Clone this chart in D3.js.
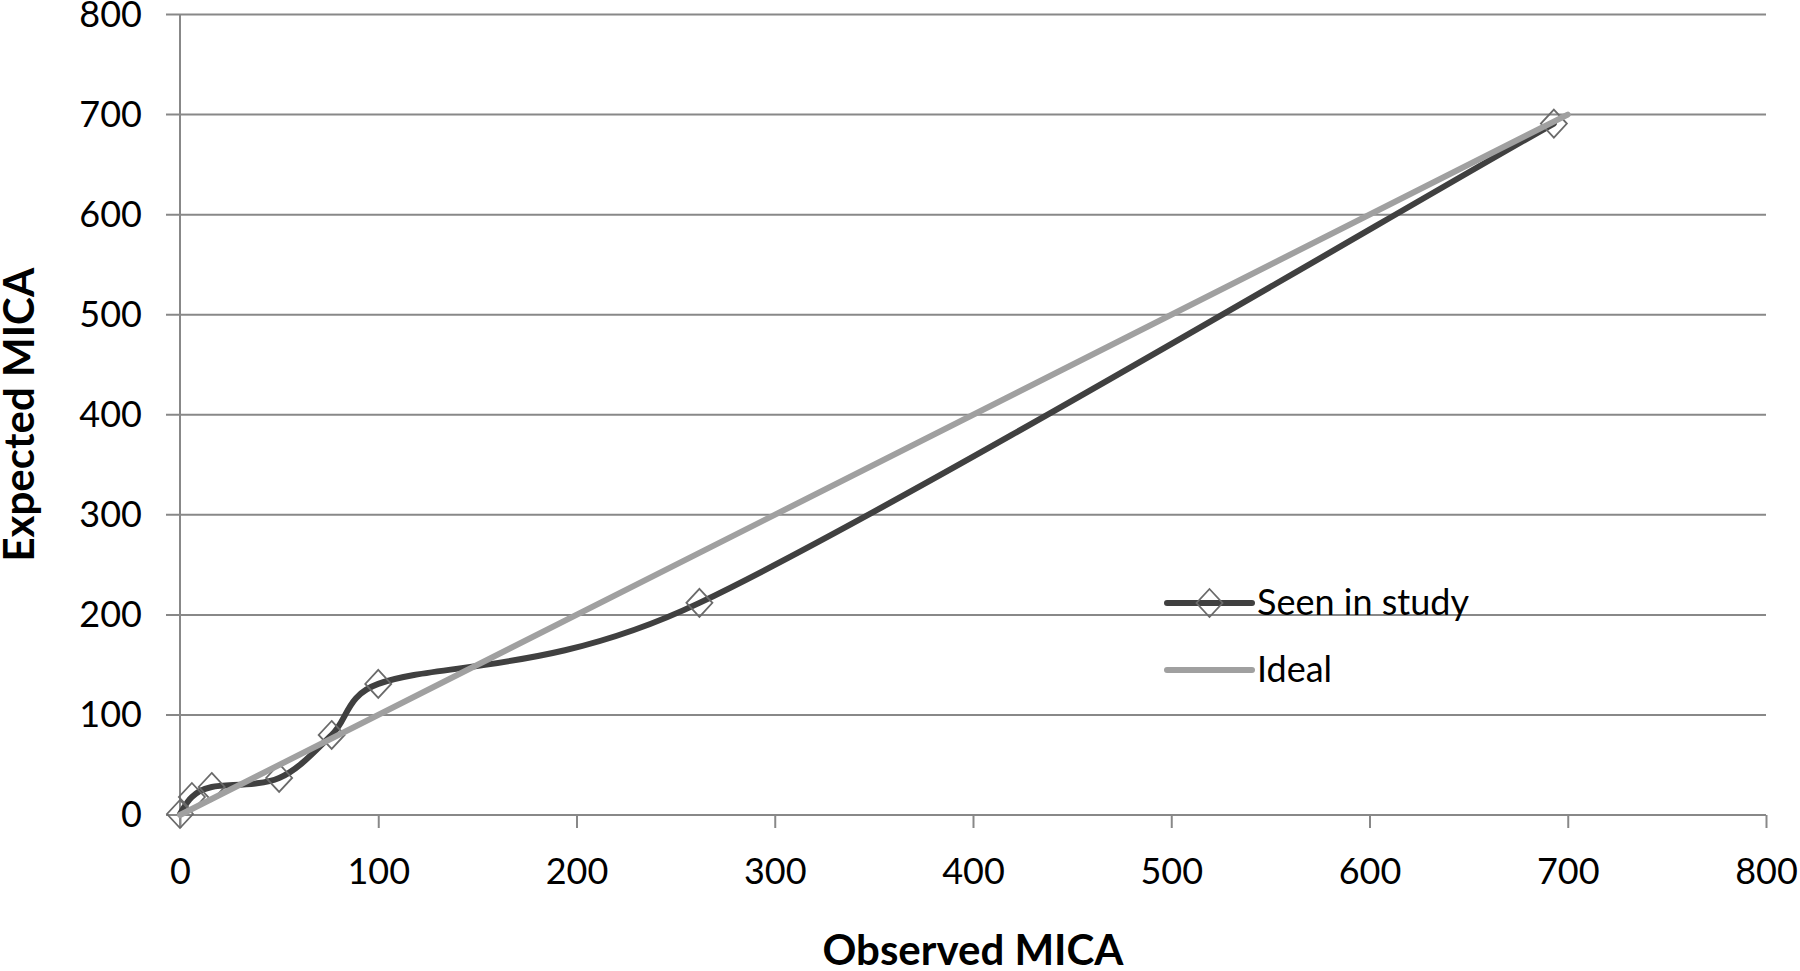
<!DOCTYPE html>
<html>
<head>
<meta charset="utf-8">
<title>Observed vs Expected MICA</title>
<style>
    body { margin: 0; background: #fff; }
    text { font-family: Lato, "Open Sans", sans-serif; fill: #000; }
</style>
</head>
<body>
<svg width="1800" height="971"></svg>
<script src="https://d3js.org/d3.v7.min.js"></script>
<script>
    // data
    const seenX = [0, 6, 16, 50, 76.5, 100, 262, 693];
    const seenY = [1, 18, 28, 37, 80, 131, 212, 691];
    const idealX = [0, 700];
    const idealY = [0, 700];
    const xTicks = [0, 100, 200, 300, 400, 500, 600, 700, 800];
    const yTicks = [0, 100, 200, 300, 400, 500, 600, 700, 800];
    const seriesNames = ['Seen in study', 'Ideal'];

    const svg = d3.select('svg');
    const plotLeft = 180, plotRight = 1766, plotTop = 14.5, plotBottom = 815;
    const gridColor = '#888';

    const x = d3.scaleLinear().domain([0, 800]).range([plotLeft, plotRight]);
    const y = d3.scaleLinear().domain([0, 800]).range([plotBottom, plotTop]);

    // horizontal gridlines
    svg.append('g').selectAll('line').data(yTicks).enter().append('line')
        .attr('x1', plotLeft - 14).attr('x2', plotRight)
        .attr('y1', d => y(d)).attr('y2', d => y(d))
        .attr('stroke', gridColor).attr('stroke-width', 2);

    // y axis
    const yAxis = svg.append('g').attr('transform', `translate(${plotLeft},0)`)
        .call(d3.axisLeft(y).tickValues(yTicks).tickSize(0).tickPadding(38));
    yAxis.select('.domain').remove();
    yAxis.selectAll('text').style('font-size', '36px');
    svg.append('line')
        .attr('x1', plotLeft).attr('x2', plotLeft).attr('y1', plotTop).attr('y2', plotBottom + 13)
        .attr('stroke', gridColor).attr('stroke-width', 2);

    // x axis
    const xAxis = svg.append('g').attr('transform', `translate(0,${plotBottom})`)
        .call(d3.axisBottom(x).tickValues(xTicks).tickSize(13).tickPadding(30));
    xAxis.select('.domain').remove();
    xAxis.selectAll('line').attr('stroke', gridColor).attr('stroke-width', 2);
    xAxis.selectAll('text').style('font-size', '36px');

    // series
    const seen = seenX.map((d, i) => [d, seenY[i]]);
    const ideal = idealX.map((d, i) => [d, idealY[i]]);

    // spreadsheet-style smoothing: catmull-rom tangents (1/6), clamped to half the segment
    function smoothPath(pts) {
        const p = pts.map(d => [x(d[0]), y(d[1])]);
        const path = d3.path();
        path.moveTo(p[0][0], p[0][1]);
        for (let i = 0; i < p.length - 1; i++) {
            const p0 = p[Math.max(i - 1, 0)], p1 = p[i], p2 = p[i + 1], p3 = p[Math.min(i + 2, p.length - 1)];
            const seg = Math.hypot(p2[0] - p1[0], p2[1] - p1[1]);
            let t1 = [(p2[0] - p0[0]) / 6, (p2[1] - p0[1]) / 6];
            let t2 = [(p3[0] - p1[0]) / 6, (p3[1] - p1[1]) / 6];
            const l1 = Math.hypot(t1[0], t1[1]), l2 = Math.hypot(t2[0], t2[1]);
            if (l1 > seg / 2) t1 = t1.map(v => v * seg / 2 / l1);
            if (l2 > seg / 2) t2 = t2.map(v => v * seg / 2 / l2);
            path.bezierCurveTo(p1[0] + t1[0], p1[1] + t1[1], p2[0] - t2[0], p2[1] - t2[1], p2[0], p2[1]);
        }
        return path.toString();
    }

    svg.append('path')
        .attr('d', smoothPath(seen))
        .attr('fill', 'none').attr('stroke', '#404040')
        .attr('stroke-width', 6).attr('stroke-linecap', 'round');

    const diamond = (cx, cy) => `M${cx},${cy - 14}L${cx + 13},${cy}L${cx},${cy + 14}L${cx - 13},${cy}Z`;
    svg.append('g').selectAll('path').data(seen).enter().append('path')
        .attr('d', d => diamond(x(d[0]), y(d[1])))
        .attr('fill', 'none').attr('stroke', '#6a6a6a').attr('stroke-width', 1.8);

    svg.append('path').datum(ideal)
        .attr('d', d3.line().x(d => x(d[0])).y(d => y(d[1])))
        .attr('fill', 'none').attr('stroke', '#a0a0a0')
        .attr('stroke-width', 6).attr('stroke-linecap', 'round');

    // legend
    const legend = svg.append('g');
    const lx1 = 1167, lx2 = 1252, ly = [603, 670];
    legend.append('line').attr('x1', lx1).attr('x2', lx2).attr('y1', ly[0]).attr('y2', ly[0])
        .attr('stroke', '#404040').attr('stroke-width', 6).attr('stroke-linecap', 'round');
    legend.append('path').attr('d', diamond((lx1 + lx2) / 2, ly[0]))
        .attr('fill', 'none').attr('stroke', '#6a6a6a').attr('stroke-width', 1.8);
    legend.append('line').attr('x1', lx1).attr('x2', lx2).attr('y1', ly[1]).attr('y2', ly[1])
        .attr('stroke', '#a0a0a0').attr('stroke-width', 6).attr('stroke-linecap', 'round');
    legend.selectAll('text').data(seriesNames).enter().append('text')
        .attr('x', 1257).attr('y', (d, i) => ly[i] + 12)
        .style('font-size', '36px').text(d => d);

    // axis titles
    svg.append('text')
        .attr('x', (plotLeft + plotRight) / 2).attr('y', 965)
        .attr('text-anchor', 'middle')
        .style('font-size', '42px').style('font-weight', 'bold')
        .text('Observed MICA');
    svg.append('text')
        .attr('transform', `translate(34,${(plotTop + plotBottom) / 2}) rotate(-90)`)
        .attr('text-anchor', 'middle')
        .style('font-size', '42px').style('font-weight', 'bold')
        .text('Expected MICA');
</script>
</body>
</html>
